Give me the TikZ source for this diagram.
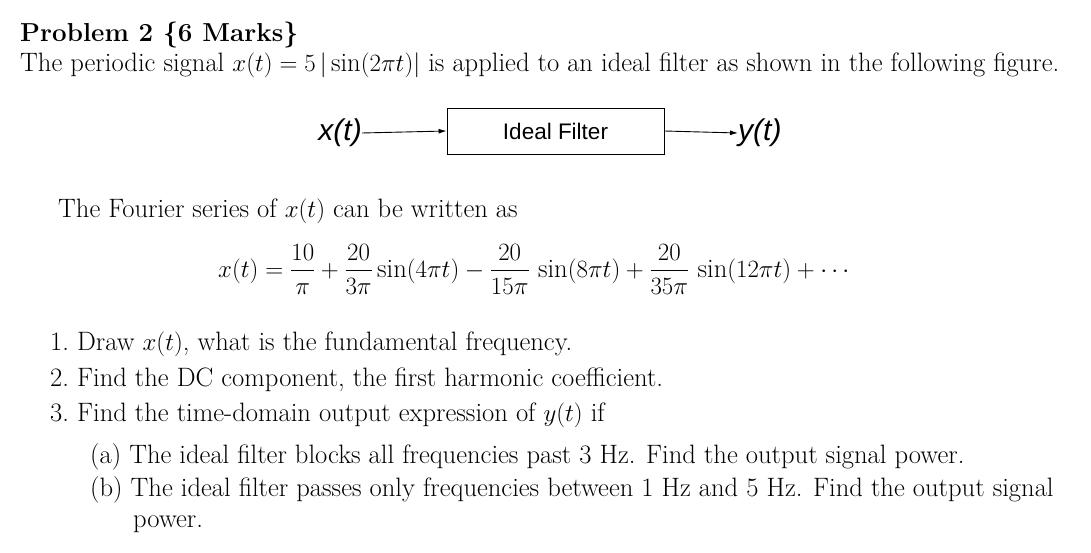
\documentclass[tikz,border=0pt]{standalone}
\usepackage{fontspec}
\usepackage{amsmath}
\newfontfamily\arial{Liberation Sans}
\usetikzlibrary{arrows.meta}
\begin{document}
\begin{tikzpicture}[x=1pt,y=-1pt,
  txt/.style={anchor=base west,inner sep=0pt,font=\fontsize{26.6}{30}\selectfont},
  arr/.style={line width=0.9pt,-{Latex[length=8pt,width=5pt]}},
  sig/.style={inner sep=0pt,font=\arial\itshape\fontsize{30}{32}\selectfont}]
\useasboundingbox (0,0) rectangle (1091,553);
\node[txt,font=\bfseries\fontsize{26}{30}\selectfont] (title) at (20,42) {Problem 2 \{6 Marks\}};
\node[txt] (l1) at (20,72) {The periodic signal $x(t)=5\,|\sin(2\pi t)|$ is applied to an ideal filter as shown in the following figure.};
\node[draw,line width=0.9pt,minimum width=217pt,minimum height=46pt,inner sep=0pt,font=\arial\fontsize{22.5}{26}\selectfont] (box) at (555.5,131) {Ideal Filter};
\node[sig,anchor=east] (x) at (362,133) {x(t)};
\node[sig,anchor=west] (y) at (738,133) {y(t)};
\draw[arr] (x.east) -- (box.west);
\draw[arr] (box.east) -- (y.west);
\node[txt] (l2) at (58,218) {The Fourier series of $x(t)$ can be written as};
\node[txt] (eq) at (218,277) {$\displaystyle x(t)=\frac{10}{\pi}+\frac{20}{3\pi}\sin(4\pi t)-\frac{20}{15\pi}\,\sin(8\pi t)+\frac{20}{35\pi}\,\sin(12\pi t)+\cdots$};
\node[txt] (i1) at (50,350) {1.\ Draw $x(t)$, what is the fundamental frequency.};
\node[txt] (i2) at (50,386) {2.\ Find the DC component, the first harmonic coefficient.};
\node[txt] (i3) at (50,421) {3.\ Find the time-domain output expression of $y(t)$ if};
\node[txt] (a) at (90,463) {(a)\ The ideal filter blocks all frequencies past 3 Hz. Find the output signal power.};
\node[txt] (b) at (90,496) {(b)\ The ideal filter passes only frequencies between 1 Hz and 5 Hz. Find the output signal};
\node[txt] (c) at (133,527) {power.};
\end{tikzpicture}
\end{document}
